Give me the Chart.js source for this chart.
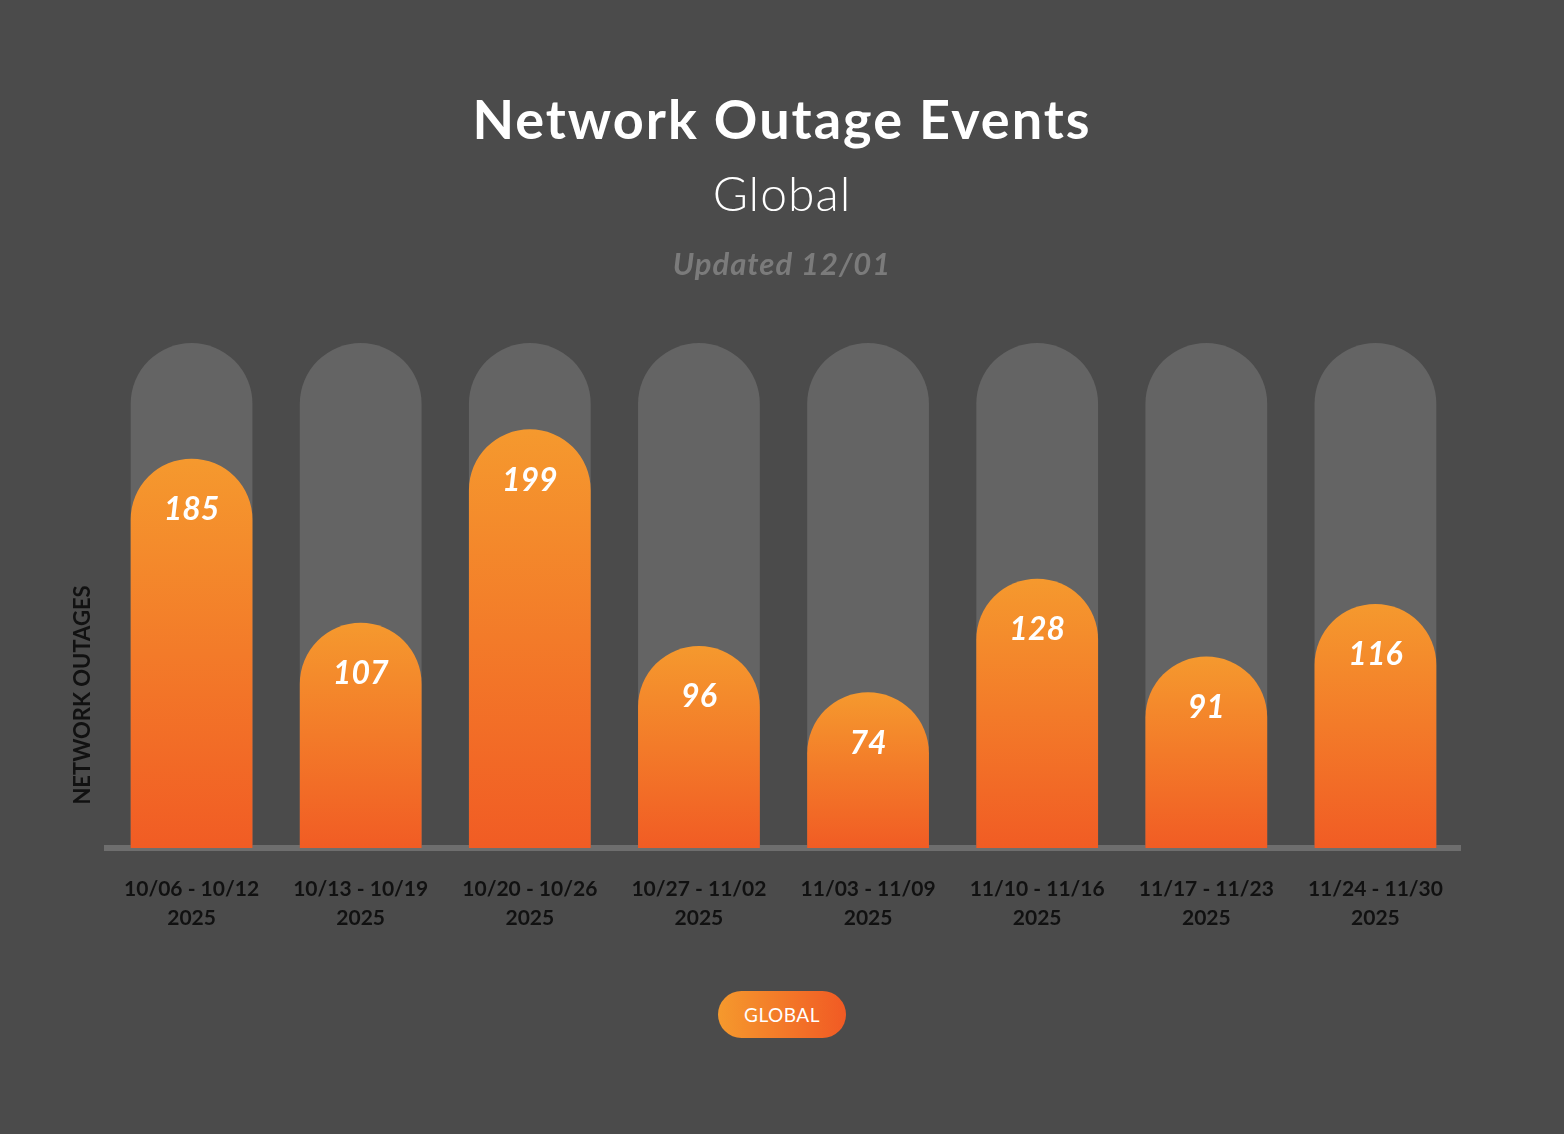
<!DOCTYPE html>
<html>
<head>
<meta charset="utf-8">
<script src="https://cdn.jsdelivr.net/npm/chart.js@4"></script>
<style>
  html, body { margin: 0; padding: 0; background: #4b4b4b; }
  body { width: 1564px; height: 1134px; position: relative; overflow: hidden; font-family: Lato, "Noto Sans", sans-serif; }
  #wrap { position: absolute; left: 0; top: 0; width: 1564px; height: 1134px; }
  .head { position: absolute; left: 0; width: 1564px; text-align: center; margin: 0; }
  #title { top: 86px; font-size: 54px; font-weight: 700; color: #ffffff; letter-spacing: 2px; }
  #subtitle { top: 164px; font-size: 48px; font-weight: 300; color: #ffffff; letter-spacing: 1px; }
  #updated { top: 244px; font-size: 31px; font-weight: 700; font-style: italic; color: #7b7b7b; letter-spacing: 1px; }
  #legend { position: absolute; left: 718px; top: 991px; width: 128px; height: 47px; border-radius: 24px;
    background: linear-gradient(90deg, #f5992d, #f15a24); color: #fff; font-size: 19px; line-height: 47px; text-align: center; letter-spacing: 0.5px; }
</style>
</head>
<body>
<div id="wrap"><canvas id="myChart" width="1564" height="1134"></canvas></div>
<div class="head" id="title">Network Outage Events</div>
<div class="head" id="subtitle">Global</div>
<div class="head" id="updated">Updated 12/01</div>
<div id="legend">GLOBAL</div>

<script>
const weekRanges = ["10/06 - 10/12", "10/13 - 10/19", "10/20 - 10/26", "10/27 - 11/02",
  "11/03 - 11/09", "11/10 - 11/16", "11/17 - 11/23", "11/24 - 11/30"];
const weekYears = ["2025", "2025", "2025", "2025", "2025", "2025", "2025", "2025"];
const outages = [185, 107, 199, 96, 74, 128, 91, 116];
const axisMax = 240;

const labels = weekRanges.map((r, i) => [r, weekYears[i]]);
const trackValues = weekRanges.map(() => axisMax);

function barGradient(context) {
  const chart = context.chart;
  const { ctx, chartArea, scales } = chart;
  if (!chartArea) {
    return '#f26a26';
  }
  const top = scales.y.getPixelForValue(context.raw);
  const bottom = scales.y.getPixelForValue(0);
  const g = ctx.createLinearGradient(0, top, 0, bottom);
  g.addColorStop(0, '#f5992e');
  g.addColorStop(1, '#f15c24');
  return g;
}

// value text inside the top of each bar
const valueLabels = {
  id: 'valueLabels',
  afterDatasetsDraw(chart) {
    const ctx = chart.ctx;
    const meta = chart.getDatasetMeta(0);
    ctx.save();
    ctx.fillStyle = '#ffffff';
    ctx.font = 'italic 700 32px Lato';
    ctx.textAlign = 'center';
    ctx.textBaseline = 'middle';
    meta.data.forEach((bar, i) => {
      ctx.fillText(outages[i], bar.x, bar.y + 51);
    });
    ctx.restore();
  }
};

// rotated y axis title
const yTitle = {
  id: 'yTitle',
  afterDraw(chart) {
    const ctx = chart.ctx;
    ctx.save();
    ctx.translate(83, chart.chartArea.bottom - 153);
    ctx.rotate(-Math.PI / 2);
    ctx.fillStyle = '#111111';
    ctx.font = '700 22px Lato';
    ctx.textAlign = 'center';
    ctx.textBaseline = 'middle';
    ctx.fillText('NETWORK OUTAGES', 0, 0);
    ctx.restore();
  }
};

const ctx = document.getElementById('myChart').getContext('2d');
const myChart = new Chart(ctx, {
  type: 'bar',
  data: {
    labels: labels,
    datasets: [
      {
        label: 'Global',
        data: outages,
        backgroundColor: barGradient,
        borderRadius: 61,
        borderSkipped: 'start',
        grouped: false,
        order: 0,
        categoryPercentage: 0.72,
        barPercentage: 1
      },
      {
        label: 'track',
        data: trackValues,
        backgroundColor: '#646464',
        borderRadius: 61,
        borderSkipped: 'start',
        grouped: false,
        order: 1,
        categoryPercentage: 0.72,
        barPercentage: 1
      }
    ]
  },
  options: {
    responsive: false,
    animation: false,
    layout: { padding: { top: 343, left: 107, right: 104, bottom: 0 } },
    plugins: {
      legend: { display: false },
      tooltip: { enabled: false },
      title: { display: false }
    },
    scales: {
      x: {
        grid: { display: false },
        border: { display: true, color: '#6e6e6e', width: 6 },
        ticks: {
          color: '#111111',
          font: { family: 'Lato', weight: '700', size: 21, lineHeight: 1.38 },
          padding: 19,
          maxRotation: 0,
          autoSkip: false
        },
        afterFit(scale) { scale.height = 1134 - 848; }
      },
      y: {
        display: false,
        min: 0,
        max: axisMax
      }
    }
  },
  plugins: [valueLabels, yTitle]
});
</script>
</body>
</html>
